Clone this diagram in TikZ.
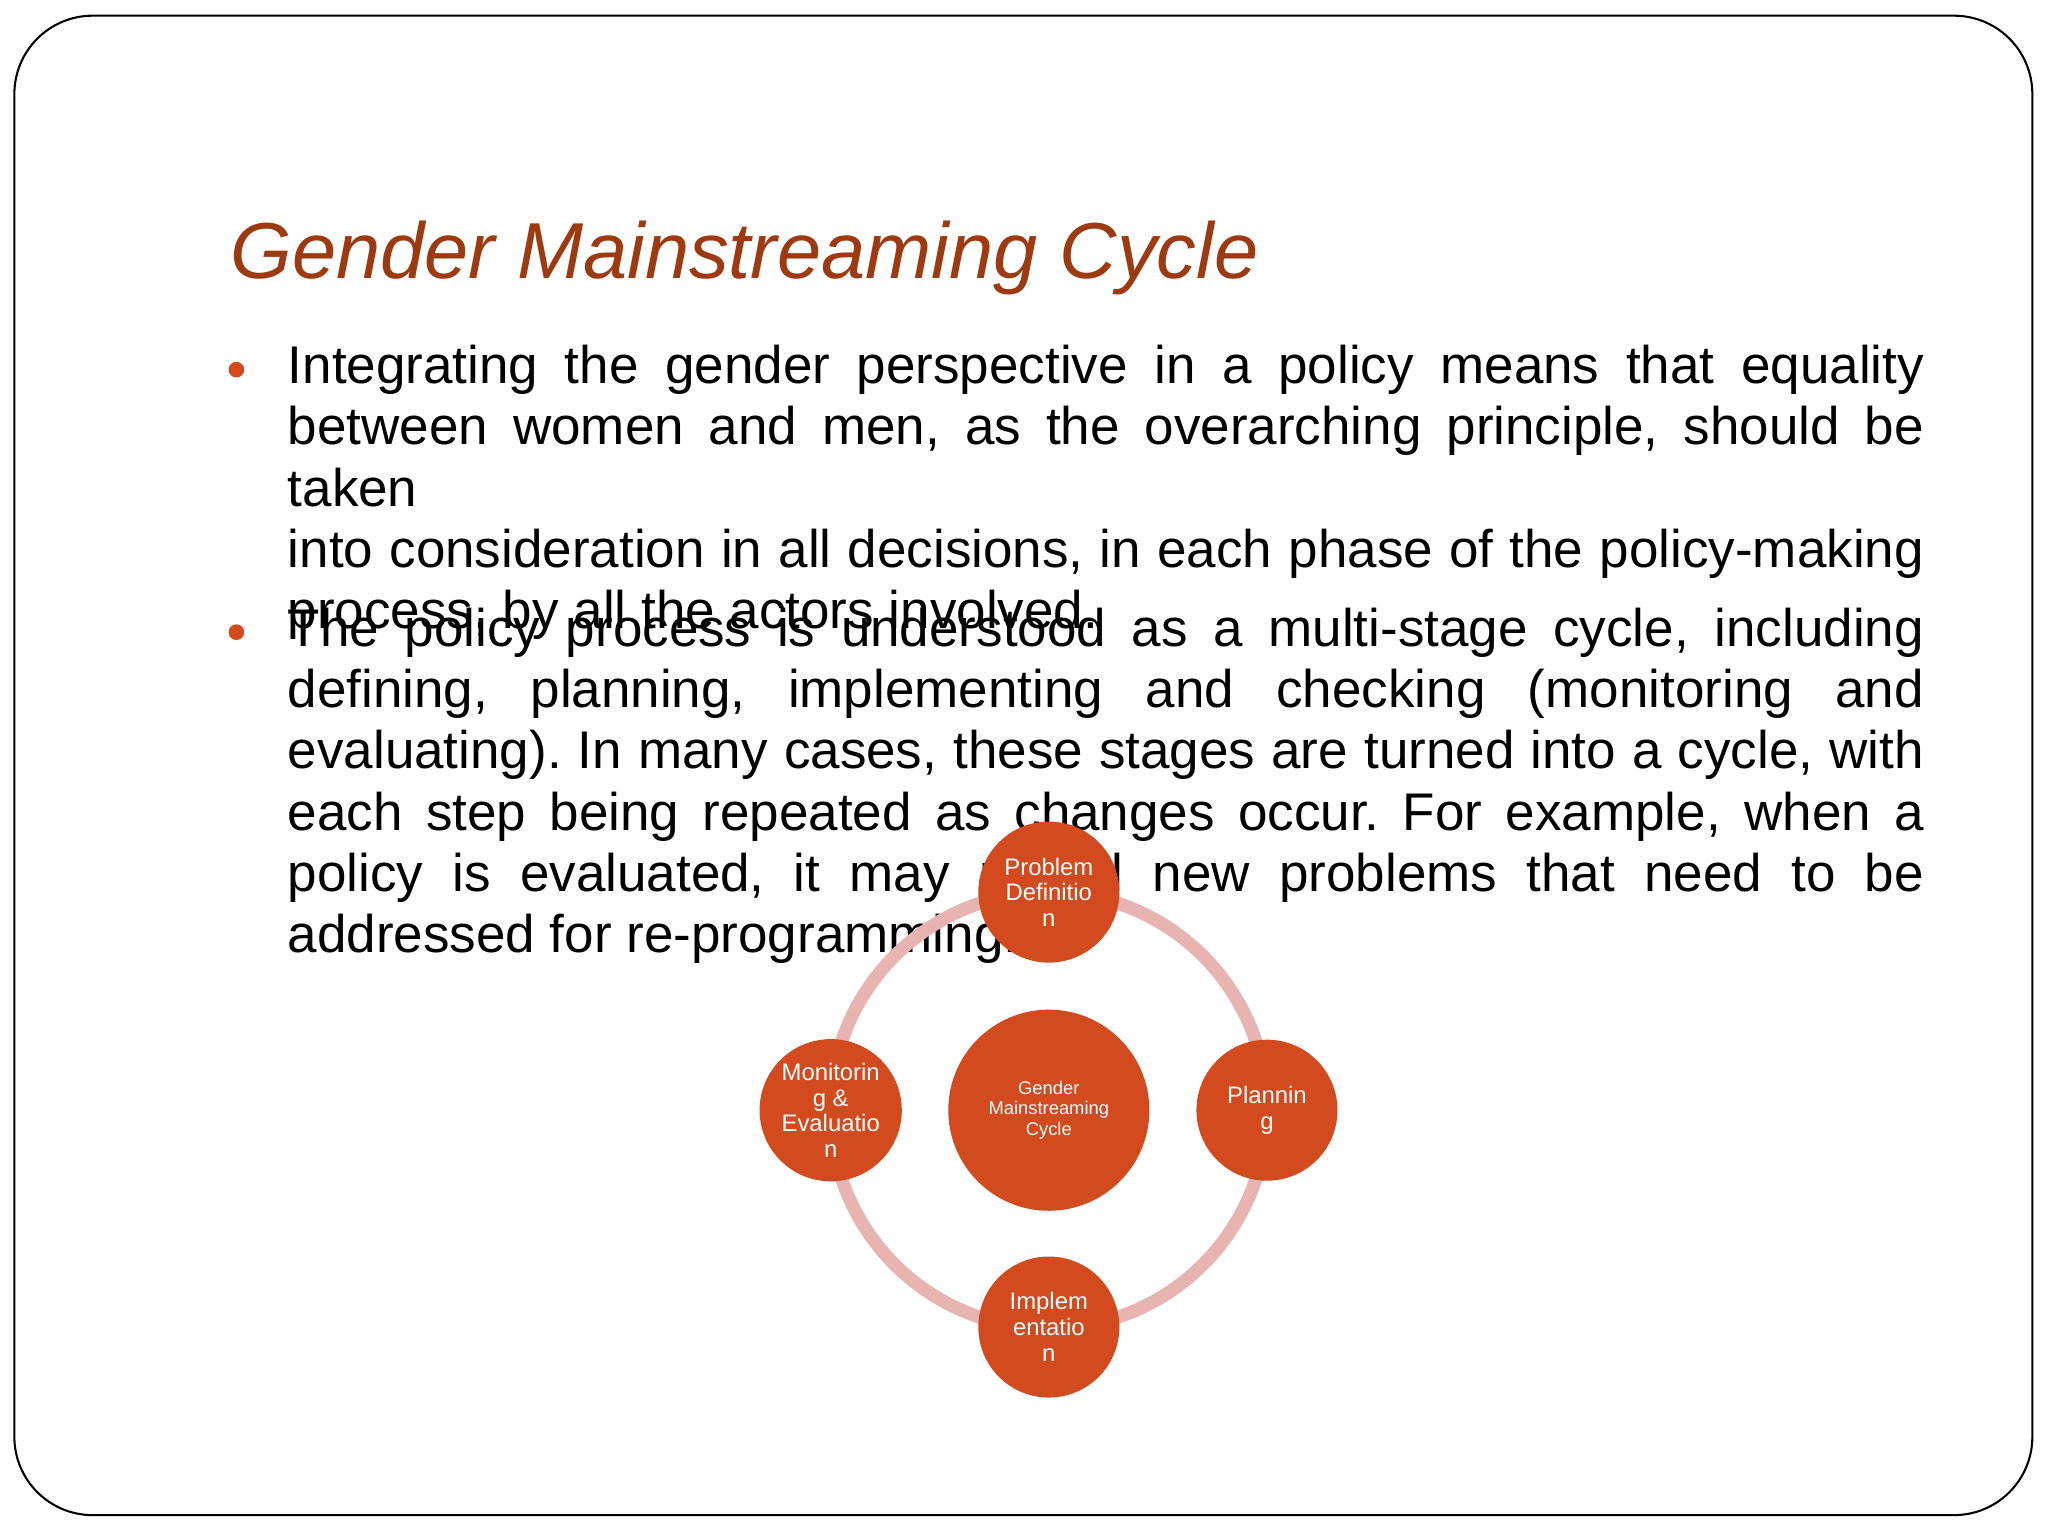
\documentclass[tikz,border=0pt]{standalone}
\usepackage{fontspec}
\setmainfont{Liberation Sans}
\definecolor{titlec}{HTML}{9E3A12}
\definecolor{circc}{HTML}{D24A1E}
\definecolor{ringc}{HTML}{E8B4B2}
\newcommand{\nohyph}{\hyphenpenalty10000\relax\exhyphenpenalty10000\relax}
\begin{document}
\begin{tikzpicture}[x=0.02cm,y=-0.02cm,
  bodytext/.style={anchor=north west,inner sep=0pt,text width=25.06cm,align=justify,font=\fontsize{23.1}{26.7}\selectfont\frenchspacing\nohyph},
  stage/.style={circle,fill=circc,minimum size=2.16cm,inner sep=1pt,text=white,align=center,font=\fontsize{10.4}{11.2}\selectfont},
  bul/.style={circle,fill=circc,inner sep=0pt,minimum size=0.24cm}]
\useasboundingbox (0,0) rectangle (1568,1176);
\fill[white] (0,0) rectangle (1568,1176);
\draw[line width=0.9pt, rounded corners=1.2cm] (11,12) rectangle (1556,1160);
\node[anchor=base west,inner sep=0pt,text=titlec,font=\fontsize{34.6}{40}\selectfont\itshape] (title) at (176,213) {Gender Mainstreaming Cycle};
\node[bul] (b1) at (181,283) {};
\node[bul] (b2) at (181,484) {};
\node[bodytext] (t1) at (220,264) {Integrating the gender perspective in a policy means that equality\linebreak between women and men, as the overarching principle, should be taken\linebreak into consideration in all decisions, in each phase of the policy-making\linebreak process, by all the actors involved.};
\node[bodytext] (t2) at (220,465) {The policy process is understood as a multi-stage cycle, including\linebreak defining, planning, implementing and checking (monitoring and\linebreak evaluating). In many cases, these stages are turned into a cycle, with\linebreak each step being repeated as changes occur. For example, when a\linebreak policy is evaluated, it may reveal new problems that need to be\linebreak addressed for re-programming.};
\coordinate (c) at (803,850);
\draw[ringc,line width=0.2cm] (c) circle[radius=167];
\node[circle,fill=circc,minimum size=3.08cm,text=white,align=center,font=\fontsize{8}{8.8}\selectfont] (ctr) at (c) {Gender\\Mainstreaming\\Cycle};
\node[stage] (p) at (803,683) {Problem\\Definitio\\n};
\node[stage] (pl) at (970,850) {Plannin\\g};
\node[stage] (im) at (803,1016) {Implem\\entatio\\n};
\node[stage] (me) at (636,850) {Monitorin\\g \&\\Evaluatio\\n};
\end{tikzpicture}
\end{document}
